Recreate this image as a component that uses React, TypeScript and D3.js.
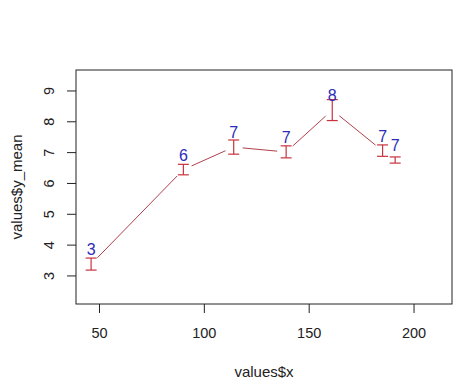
import React from "react";
import * as d3 from "d3";

const xValues = [46, 90, 114, 139, 161, 185, 191];
const yMean = [3.38, 6.45, 7.18, 7.02, 8.38, 7.06, 6.76];
const ciLower = [3.19, 6.28, 6.95, 6.83, 8.04, 6.88, 6.66];
const ciUpper = [3.58, 6.62, 7.41, 7.22, 8.72, 7.25, 6.86];
const counts = [3, 6, 7, 7, 8, 7, 7];
const xTicks = [50, 100, 150, 200];
const yTicks = [3, 4, 5, 6, 7, 8, 9];

const W = 474;
const H = 386;
const box = { left: 76, right: 452, top: 70, bottom: 304 };
const FONT = "Liberation Sans, Arial, Helvetica, sans-serif";

export default function App() {
  const x = d3.scaleLinear().domain([38.8, 218.1]).range([box.left, box.right]);
  const y = d3.scaleLinear().domain([2.09, 9.68]).range([box.bottom, box.top]);

  const pts = xValues.map((v, i) => ({ px: x(v), py: y(yMean[i]) }));
  const gap = 9;
  const segs: { x1: number; y1: number; x2: number; y2: number }[] = [];
  for (let i = 0; i < pts.length - 1; i++) {
    const a = pts[i];
    const b = pts[i + 1];
    const dx = b.px - a.px;
    const dy = b.py - a.py;
    const len = Math.sqrt(dx * dx + dy * dy);
    if (len <= 2 * gap) continue;
    const ux = dx / len;
    const uy = dy / len;
    segs.push({
      x1: a.px + ux * gap,
      y1: a.py + uy * gap,
      x2: b.px - ux * gap,
      y2: b.py - uy * gap,
    });
  }

  const barColor = "#c8323c";
  const lineColor = "#b0404c";
  const labelColor = "#2c2cb8";
  const cap = 5.5;

  return (
    <svg
      width={W}
      height={H}
      style={{ position: "absolute", left: 0, top: 0, background: "#fff" }}
      fontFamily={FONT}
    >
      <rect x={0} y={0} width={W} height={H} fill="#fff" />
      {segs.map((s, i) => (
        <line key={"s" + i} x1={s.x1} y1={s.y1} x2={s.x2} y2={s.y2} stroke={lineColor} strokeWidth={1} />
      ))}
      {xValues.map((v, i) => {
        const px = x(v);
        const lo = y(ciLower[i]);
        const hi = y(ciUpper[i]);
        return (
          <g key={"e" + i} stroke={barColor} strokeWidth={1.2}>
            <line x1={px} x2={px} y1={lo} y2={hi} />
            <line x1={px - cap} x2={px + cap} y1={lo} y2={lo} />
            <line x1={px - cap} x2={px + cap} y1={hi} y2={hi} />
          </g>
        );
      })}
      {xValues.map((v, i) => (
        <text
          key={"l" + i}
          x={x(v)}
          y={y(yMean[i] + 0.47)}
          dy="0.36em"
          textAnchor="middle"
          fontSize={16}
          fill={labelColor}
        >
          {counts[i]}
        </text>
      ))}
      <rect
        x={box.left}
        y={box.top}
        width={box.right - box.left}
        height={box.bottom - box.top}
        fill="none"
        stroke="#222"
        strokeWidth={1}
      />
      {xTicks.map((t) => (
        <g key={"xt" + t}>
          <line x1={x(t)} x2={x(t)} y1={box.bottom} y2={box.bottom + 9} stroke="#222" />
          <text x={x(t)} y={333} dy="0.36em" textAnchor="middle" fontSize={14.5} fill="#222">
            {t}
          </text>
        </g>
      ))}
      {yTicks.map((t) => (
        <g key={"yt" + t}>
          <line x1={box.left - 9} x2={box.left} y1={y(t)} y2={y(t)} stroke="#222" />
          <text
            transform={`translate(49,${y(t)}) rotate(-90)`}
            dy="0.36em"
            textAnchor="middle"
            fontSize={14.5}
            fill="#222"
          >
            {t}
          </text>
        </g>
      ))}
      <text x={(box.left + box.right) / 2} y={372} dy="0.36em" textAnchor="middle" fontSize={15} fill="#222">
        values$x
      </text>
      <text
        transform={`translate(17,${(box.top + box.bottom) / 2}) rotate(-90)`}
        dy="0.36em"
        textAnchor="middle"
        fontSize={15}
        fill="#222"
      >
        values$y_mean
      </text>
    </svg>
  );
}
